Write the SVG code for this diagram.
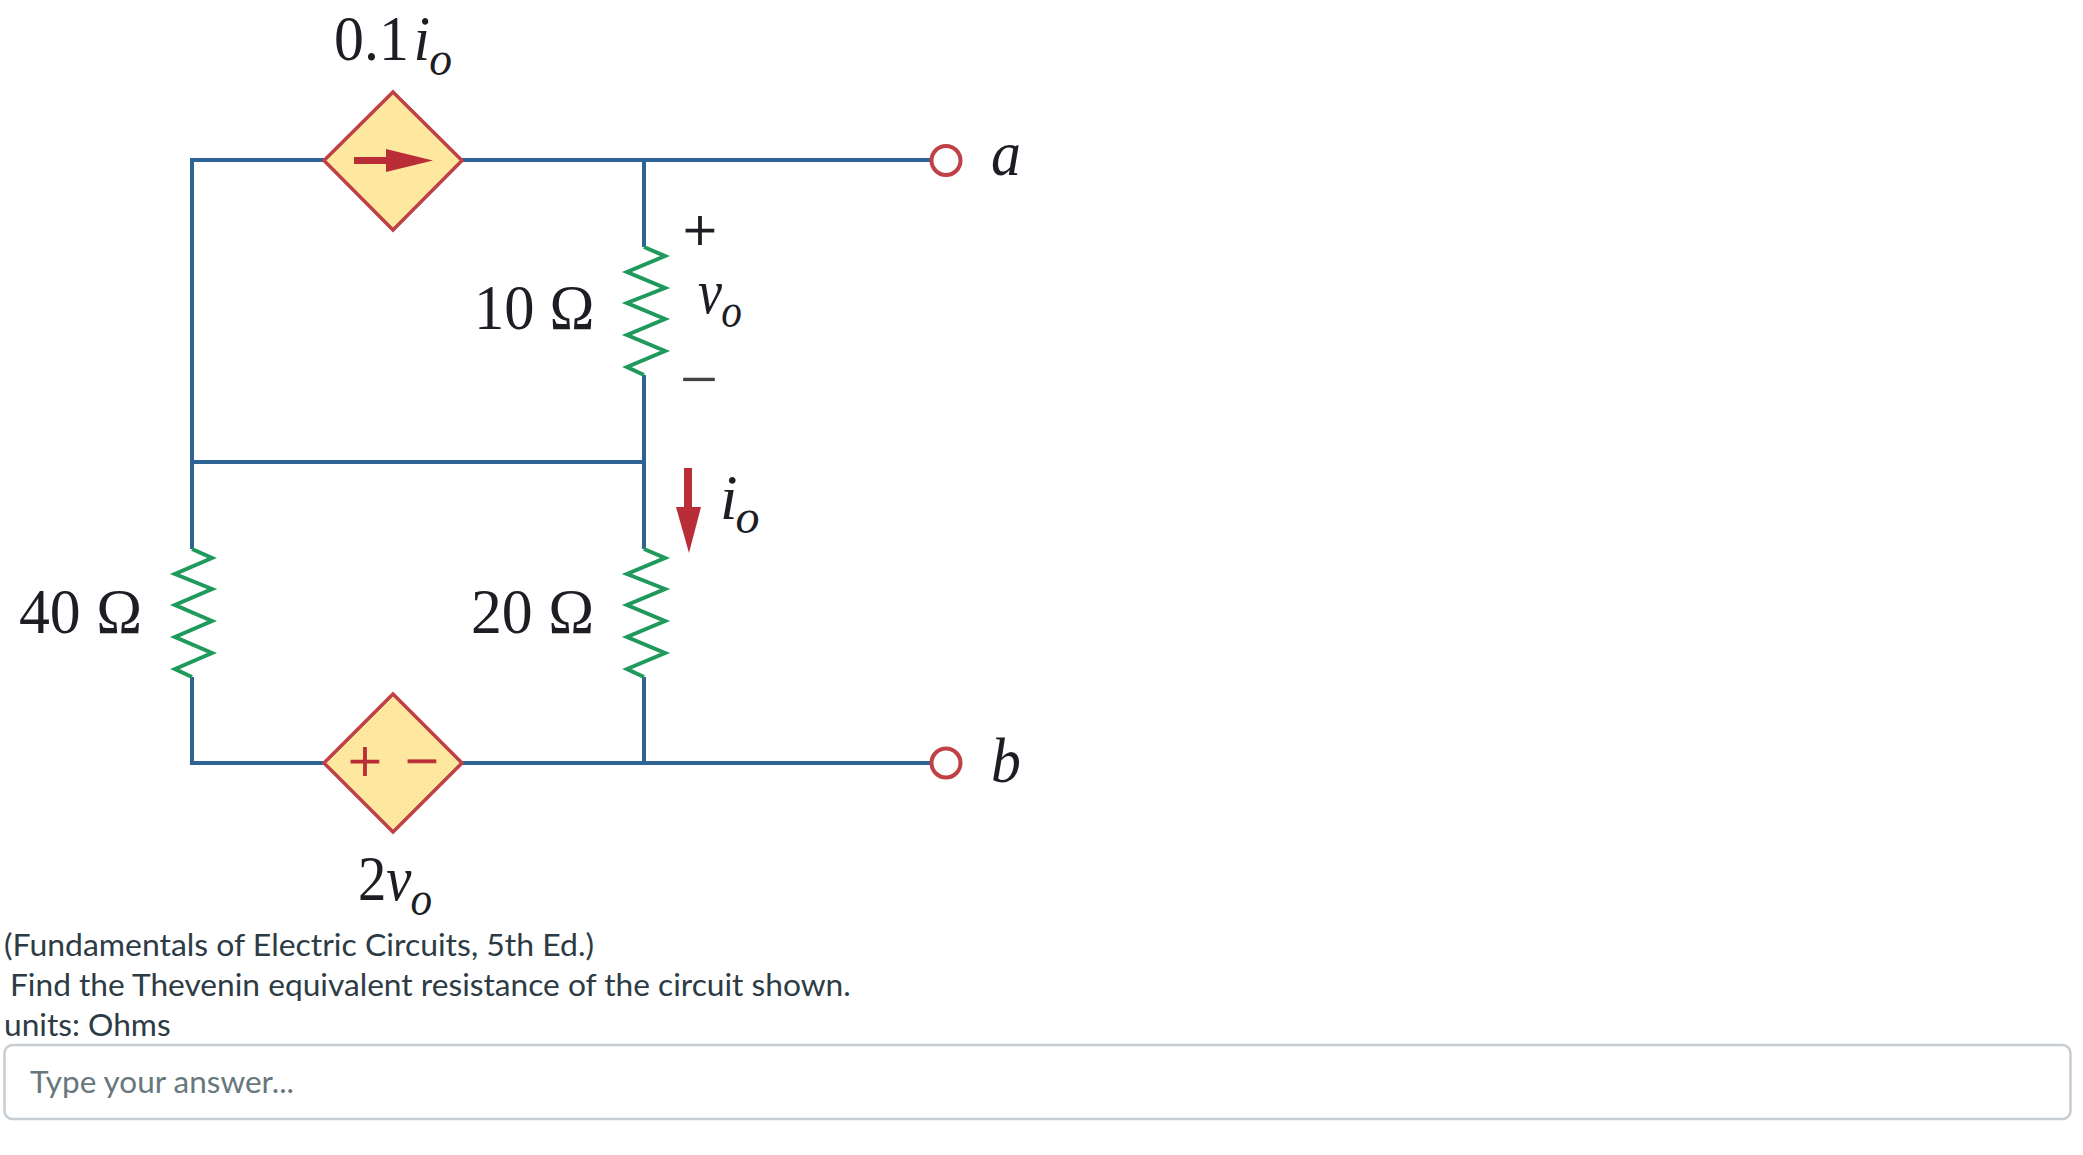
<svg xmlns="http://www.w3.org/2000/svg" width="2083" height="1155" viewBox="0 0 2083 1155">
<style>
.w{fill:none;stroke:#2d6395;stroke-width:4}
.r{fill:none;stroke:#1f9a5c;stroke-width:4}
.d{fill:#fee8a0;stroke:#bf4045;stroke-width:3.5}
.t{fill:none;stroke:#bf4045;stroke-width:4}
.a{fill:#b92d36;stroke:none}
.m{font-family:"Liberation Serif",serif;font-size:63px;fill:#1d1d24}
.i{font-style:italic}
.s{font-style:italic;font-size:48px}
.p{font-family:"Liberation Serif",serif;font-size:60px;fill:#1d1d24;stroke:#1d1d24;stroke-width:.8}
.n{font-size:68px;stroke:none;fill:#444}
.q{font-family:"Liberation Serif",serif;font-size:60px;fill:#b92d36;stroke:#b92d36;stroke-width:.8}
.l{font-family:Lato,sans-serif;font-size:31.700px;fill:#2d3b45}
.ph{font-family:Lato,sans-serif;font-size:31.700px;fill:#68777d}
</style>
<rect width="2083" height="1155" fill="#fff"/>
<g id="connectors">
<path class="w" d="M325 160H192V549M192 677V763H325"/>
<path class="w" d="M462 160H932M644 160V247M644 375V549M644 677V763M192 462H644M462 763H932"/>
</g>
<g id="source-top">
<polygon class="d" points="393,92 462,160.500 393,230 324,160.500"/>
<rect class="a" x="354" y="157" width="34" height="7"/>
<polygon class="a" points="386,149 433,160.500 386,172"/>
<text class="m" transform="translate(334,60) scale(.95,1)">0.1<tspan class="i" dx="5">i</tspan><tspan class="s" dx="-1" dy="15">o</tspan></text>
</g>
<g id="source-bottom">
<polygon class="d" points="393,694 462,763 393,832 324,763"/>
<text class="q" x="365" y="781" text-anchor="middle">+</text>
<text class="q" x="422" y="781" text-anchor="middle">−</text>
<text class="m" transform="translate(358,900) scale(.9,1)">2<tspan class="i">v</tspan><tspan class="s" dx="-1" dy="15">o</tspan></text>
</g>
<g id="r10">
<polyline class="r" points="644,247 665,256 627,272 665,288 627,303 665,319 627,335 665,351 627,367 644,375"/>
<text class="m" transform="translate(474,329) scale(.96,1)">10 Ω</text>
</g>
<g id="r20">
<polyline class="r" points="644,549 665,558 627,574 665,589 627,605 665,621 627,637 665,653 627,669 644,677"/>
<text class="m" transform="translate(471,633) scale(.98,1)">20 Ω</text>
</g>
<g id="r40">
<polyline class="r" points="192,549 212,558 175,574 212,589 175,605 212,621 175,637 212,653 175,669 192,677"/>
<text class="m" transform="translate(19,633) scale(.98,1)">40 Ω</text>
</g>
<g id="vo">
<text class="p" x="700" y="250" text-anchor="middle">+</text>
<text class="p n" x="699" y="402" text-anchor="middle">−</text>
<text class="m" transform="translate(698,313) scale(.86,1)"><tspan class="i">v</tspan><tspan class="s" dx="-1" dy="14">o</tspan></text>
</g>
<g id="io">
<rect class="a" x="684" y="468" width="8" height="40"/>
<polygon class="a" points="676,507 701,507 689,553"/>
<text class="m" transform="translate(720,519)"><tspan class="i">i</tspan><tspan class="s" dx="-2" dy="14">o</tspan></text>
</g>
<g id="terminal-a">
<circle class="t" cx="946" cy="160.500" r="14.500" fill="#fff"/>
<text class="m i" transform="translate(991,175) scale(.95,1)">a</text>
</g>
<g id="terminal-b">
<circle class="t" cx="946" cy="763" r="14.500" fill="#fff"/>
<text class="m i" transform="translate(991,782) scale(.95,1)">b</text>
</g>
<g id="question">
<text class="l" x="4" y="956" textLength="590" lengthAdjust="spacingAndGlyphs">(Fundamentals of Electric Circuits, 5th Ed.)</text>
<text class="l" x="10" y="996">Find the Thevenin equivalent resistance of the circuit shown.</text>
<text class="l" x="4" y="1036">units: Ohms</text>
</g>
<g id="answer">
<rect x="4.500" y="1045" width="2066" height="74" rx="8" fill="#fff" stroke="#c7cdd1" stroke-width="2.500"/>
<text class="ph" x="30" y="1093" textLength="264" lengthAdjust="spacingAndGlyphs">Type your answer...</text>
</g>
</svg>
